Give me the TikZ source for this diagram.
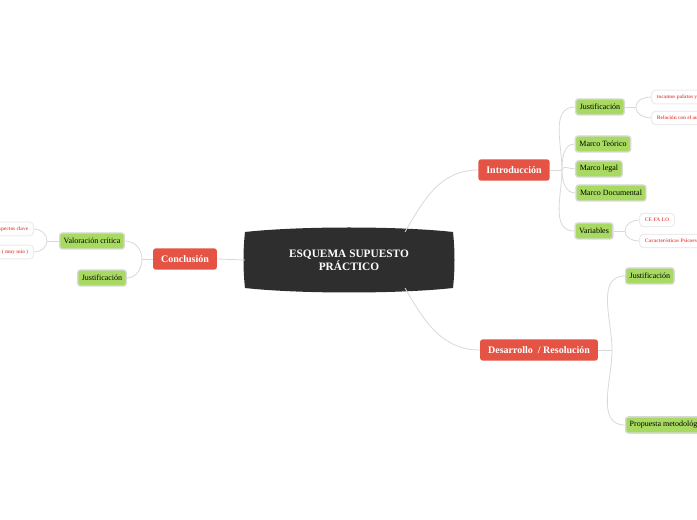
\documentclass[tikz,border=0pt]{standalone}
\usepackage{fontspec}
\setmainfont{Liberation Serif}
\definecolor{rd}{RGB}{229,83,68}
\definecolor{gn}{RGB}{168,218,98}
\definecolor{pt}{RGB}{232,95,90}
\begin{document}
\begin{tikzpicture}[x=0.75pt,y=-0.75pt,
  red/.style={fill=rd, rounded corners=2pt, text=white, font=\bfseries\fontsize{7.5}{8}\selectfont, minimum height=16pt, inner xsep=6pt},
  grn/.style={fill=gn, draw=gray!30, line width=1pt, rounded corners=2pt, font=\fontsize{6}{7}\selectfont, minimum height=12pt, inner xsep=3pt},
  pale/.style={fill=white, draw=gray!15, line width=0.8pt, rounded corners=3pt, text=pt, font=\bfseries\fontsize{4}{5}\selectfont, minimum height=10pt, inner xsep=4pt},
  con/.style={draw=gray!30, line width=0.6pt}]
\clip (0,0) rectangle (697,520);
\fill[white] (0,0) rectangle (697,520);
% central
\fill[black!82] (245,232) .. controls (300,226) and (398,226) .. (453,232) .. controls (455,250) and (455,270) .. (453,288) .. controls (398,294) and (300,294) .. (245,288) .. controls (243,270) and (243,250) .. (245,232) -- cycle;
\node[text=white, font=\bfseries\fontsize{8.5}{10}\selectfont, align=center] (c) at (349,260) {ESQUEMA SUPUESTO\\PRÁCTICO};
\coordinate (cT) at (405,232); \coordinate (cB) at (405,288); \coordinate (cL) at (245,260);
% level1
\node[red] (intro) at (514,170) {Introducción};
\node[red] (des) at (539,350) {Desarrollo \ / Resolución};
\node[red] (conc) at (185,259) {Conclusión};
% intro children
\node[grn] (j1) at (600,107) {Justificación};
\node[grn] (mt) at (603,144) {Marco Teórico};
\node[grn] (ml) at (599,169) {Marco legal};
\node[grn] (md) at (611,193) {Marco Documental};
\node[grn] (var) at (594,231) {Variables};
\node[pale,anchor=west] (p1) at (651,97) {tocamos palatos y};
\node[pale,anchor=west] (p2) at (651,118) {Relación con el aula};
\node[pale,anchor=west] (p3) at (639,220) {CE FA LO};
\node[pale,anchor=west] (p4) at (639,241) {Características Psicoevolutivas};
% des children
\node[grn,anchor=west] (j2) at (625,276) {Justificación};
\node[grn,anchor=west] (pm) at (625,425) {Propuesta metodológica};
% conc children
\node[grn] (val) at (92,241) {Valoración crítica};
\node[grn] (j3) at (102,278) {Justificación};
\node[pale,anchor=east] (q1) at (34,229) {Aspectos clave};
\node[pale,anchor=east] (q2) at (34,252) {( muy mío )};
% connectors
\draw[con] (cT) to[out=60,in=180] (intro.west);
\draw[con] (cB) to[out=-60,in=180] (des.west);
\draw[con] (cL) -- (conc.east);
\coordinate (it) at (562,170);
\draw[con] (intro.east) -- (it);
\foreach \n in {j1,mt,ml}{\draw[con] (it) to[out=90,in=180] (\n.west);}
\draw[con] (it) to[out=-90,in=180] (var.west);
\draw[con] (it) to[out=-90,in=180] (md.west);
\coordinate (jt) at (636,107);
\draw[con] (j1.east) -- (jt);
\draw[con] (jt) to[out=90,in=180] (p1.west); \draw[con] (jt) to[out=-90,in=180] (p2.west);
\coordinate (vt) at (625,231);
\draw[con] (var.east) -- (vt);
\draw[con] (vt) to[out=90,in=180] (p3.west); \draw[con] (vt) to[out=-90,in=180] (p4.west);
\coordinate (dt) at (612,350);
\draw[con] (des.east) -- (dt);
\draw[con] (dt) to[out=90,in=180] (j2.west); \draw[con] (dt) to[out=-90,in=180] (pm.west);
\coordinate (ct) at (142,259);
\draw[con] (conc.west) -- (ct);
\draw[con] (ct) to[out=90,in=0] (val.east); \draw[con] (ct) to[out=-90,in=0] (j3.east);
\coordinate (vl) at (47,241);
\draw[con] (val.west) -- (vl);
\draw[con] (vl) to[out=90,in=0] (q1.east); \draw[con] (vl) to[out=-90,in=0] (q2.east);
\end{tikzpicture}
\end{document}
